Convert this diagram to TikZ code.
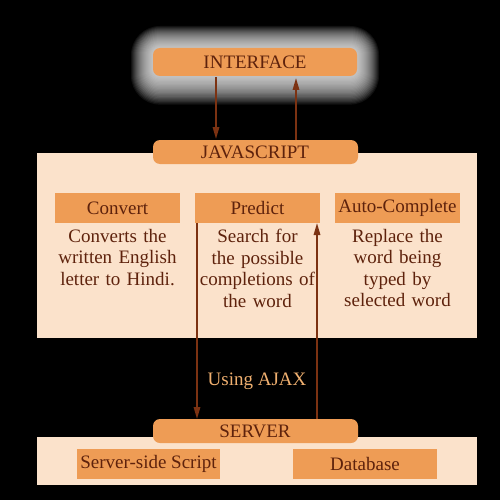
\documentclass[tikz,border=0pt]{standalone}
\usepackage{fontspec}
\setmainfont{Liberation Serif}
\usetikzlibrary{arrows.meta}
\definecolor{orng}{HTML}{EE9C55}
\definecolor{panel}{HTML}{FBE2CB}
\definecolor{brn}{HTML}{5E220C}
\definecolor{arr}{HTML}{7C3212}
\definecolor{ajax}{HTML}{F0B070}
\tikzset{
  x=1pt,y=-1pt,
  every node/.style={font=\fontsize{19}{21.5}\selectfont, text=brn, inner sep=0pt},
  roundbox/.style={fill=orng, rounded corners=7pt},
  sqbox/.style={fill=orng},
  pnl/.style={fill=panel},
  desc/.style={align=center, text width=130pt},
  flow/.style={draw=arr, line width=1.6pt, -{Triangle[length=12pt,width=6.5pt]}},
}
\begin{document}
\begin{tikzpicture}
\fill[black] (0,0) rectangle (500,500);
\useasboundingbox (0,0) rectangle (500,500);
% glow around interface
\foreach \i in {1,...,22}{
  \fill[white, opacity=0.065, rounded corners=7pt+\i pt] (153-\i,48-\i) rectangle (357+\i,76+1.3*\i);
}
% panels
\fill[pnl] (37,153) rectangle (477,338);
\fill[pnl] (37,437) rectangle (477,485);
% main boxes
\path[roundbox] (153,48) rectangle (357,76);
\node (interface) at (255,62) {INTERFACE};
\path[roundbox] (153,140) rectangle (358,164);
\node (js) at (255,152) {JAVASCRIPT};
\path[roundbox] (153,419) rectangle (358,443);
\node (server) at (255,431) {SERVER};
% sub boxes
\path[sqbox] (55,193) rectangle (180,223);
\node (convert) at (117.5,208) {Convert};
\path[sqbox] (195,193) rectangle (320,223);
\node (predict) at (257.5,208) {Predict};
\path[sqbox] (335,193) rectangle (460,223);
\node (auto) at (397.5,208) {Auto-Complete};
\node[desc, anchor=north] (d1) at (117.5,229) {Converts the\\written English\\letter to Hindi.};
\node[desc, anchor=north] (d2) at (257.5,229) {Search for\\the possible\\completions of\\the word};
\node[desc, anchor=north] (d3) at (397.5,229) {Replace the\\word being\\typed by\\selected word};
\path[sqbox] (77,449) rectangle (220,479);
\node (sss) at (148.5,464) {Server-side Script};
\path[sqbox] (293,449) rectangle (437,479);
\node (db) at (365,464) {Database};
% connectors
\coordinate (i1) at (216,77);
\coordinate (j1) at (216,139);
\coordinate (j2) at (296,140);
\coordinate (i2) at (296,78);
\draw[flow] (i1) -- (j1);
\draw[flow] (j2) -- (i2);
\coordinate (p1) at (197,223);
\coordinate (s1) at (197,419);
\coordinate (s2) at (317,419);
\coordinate (p2) at (317,223);
\draw[flow] (p1) -- (s1);
\draw[flow] (s2) -- (p2);
\node[text=ajax] (ajaxlbl) at (257,381) {Using AJAX};
\end{tikzpicture}
\end{document}
